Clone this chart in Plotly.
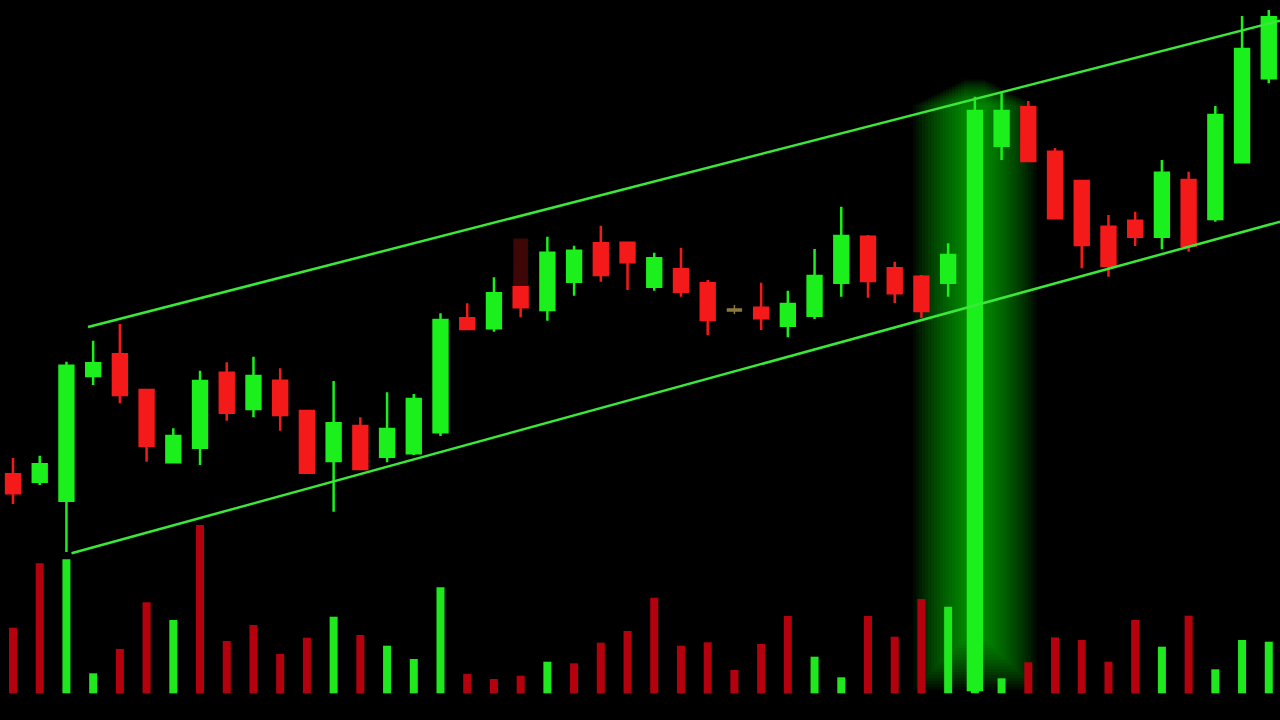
import plotly.graph_objects as go

# ---------------- data ----------------
idx = list(range(48))

opens = [52.57, 51.83, 49.93, 62.40, 64.57, 61.00, 53.77, 55.23, 62.73, 59.10,
         61.93, 58.90, 53.90, 57.40, 54.33, 54.67, 56.77, 68.17, 67.17, 71.27,
         69.00, 71.83, 75.67, 75.73, 71.33, 73.07, 71.67, None, 69.23, 67.43,
         68.43, 71.73, 76.33, 73.17, 72.33, 71.73, 31.00, 85.43, 89.27, 84.83,
         81.90, 77.33, 77.93, 76.33, 82.00, 78.10, 83.77, 92.17]
highs = [54.20, 54.43, 63.83, 65.93, 67.60, 61.10, 57.17, 62.93, 63.77, 64.33,
         63.17, 59.00, 61.90, 58.27, 60.77, 60.60, 68.67, 69.67, 72.27, 71.40,
         76.33, 75.43, 77.43, 75.83, 74.73, 75.23, 72.00, None, 71.73, 70.93,
         75.10, 79.33, 76.50, 73.83, 72.50, 75.67, 90.33, 90.83, 89.90, 85.20,
         82.00, 78.50, 78.83, 84.00, 82.83, 89.40, 98.40, 99.00]
lows = [49.60, 51.50, 44.80, 61.50, 59.67, 53.83, 53.77, 53.50, 57.93, 58.27,
        56.93, 52.70, 48.83, 53.00, 53.77, 54.50, 56.40, 67.10, 66.83, 68.27,
        67.93, 70.43, 71.83, 71.00, 70.93, 70.33, 66.50, None, 67.00, 66.27,
        68.10, 70.33, 70.23, 69.70, 68.20, 70.33, 30.80, 84.00, 83.90, 78.10,
        73.17, 72.33, 75.40, 75.07, 74.83, 77.83, 83.77, 91.67]
closes = [50.67, 53.57, 63.43, 63.67, 60.50, 55.43, 56.40, 61.90, 58.73, 62.40,
          58.50, 52.73, 57.67, 53.10, 57.10, 60.10, 68.00, 67.10, 70.67, 69.27,
          74.73, 74.93, 72.50, 73.77, 74.17, 70.83, 68.00, None, 68.17, 69.60,
          72.40, 76.40, 71.90, 70.67, 68.90, 74.50, 88.90, 88.90, 83.90, 78.17,
          75.50, 73.43, 76.33, 82.73, 75.43, 88.50, 95.10, 98.27]

# faint glitch candle
glitch_x = [27]
glitch_open = [69.1]
glitch_high = [69.5]
glitch_low = [68.6]
glitch_close = [68.9]

# faint motion ghost above candle 19
ghost_x = [19]
ghost_open = [76.1]
ghost_high = [76.1]
ghost_low = [71.3]
ghost_close = [71.3]

volumes = [656, 1300, 1340, 200, 443, 910, 733, 1683, 523, 683,
           393, 556, 766, 583, 476, 343, 1060, 193, 143, 176,
           316, 300, 506, 623, 956, 476, 510, 233, 493, 773,
           366, 160, 773, 566, 943, 866, 1000, 150, 310, 560,
           533, 316, 733, 466, 776, 240, 533, 516]
vol_dir = ["d", "d", "u", "u", "d", "d", "u", "d", "d", "d",
           "d", "d", "u", "d", "u", "u", "u", "d", "d", "d",
           "u", "d", "d", "d", "d", "d", "d", "d", "d", "d",
           "u", "u", "d", "d", "d", "u", "u", "u", "d", "d",
           "d", "d", "d", "u", "d", "u", "u", "u"]

upper_x = [2.81, 47.42]
upper_y = [67.30, 97.93]
lower_x = [2.19, 47.42]
lower_y = [44.67, 77.83]

breakout_idx = 36

# ---------------- style ----------------
GREEN = "#1cf01c"
RED = "#f51a1a"
VOL_RED = "#b5000e"
VOL_GREEN = "#1fe81f"
LINE = "#3ae83a"

fig = go.Figure()

# volume (bottom layer, y axis)
fig.add_trace(go.Bar(
    x=idx, y=volumes, width=0.3,
    marker=dict(color=[VOL_GREEN if d == "u" else VOL_RED for d in vol_dir], line=dict(width=0)),
    yaxis="y", hoverinfo="skip", showlegend=False))

# channel lines
fig.add_trace(go.Scatter(x=upper_x, y=upper_y, mode="lines", yaxis="y2",
                         line=dict(color=LINE, width=2.5), hoverinfo="skip", showlegend=False))
fig.add_trace(go.Scatter(x=lower_x, y=lower_y, mode="lines", yaxis="y2",
                         line=dict(color=LINE, width=2.5), hoverinfo="skip", showlegend=False))

# ghost
fig.add_trace(go.Candlestick(
    x=ghost_x, open=ghost_open, high=ghost_high, low=ghost_low, close=ghost_close, yaxis="y2",
    increasing=dict(line=dict(color="#3d0707", width=1), fillcolor="#3d0707"),
    decreasing=dict(line=dict(color="#3d0707", width=1), fillcolor="#3d0707"),
    whiskerwidth=0, showlegend=False, hoverinfo="skip"))

# candles
fig.add_trace(go.Candlestick(
    x=idx, open=opens, high=highs, low=lows, close=closes, yaxis="y2",
    increasing=dict(line=dict(color=GREEN, width=2.5), fillcolor=GREEN),
    decreasing=dict(line=dict(color=RED, width=2.5), fillcolor=RED),
    whiskerwidth=0, showlegend=False))

fig.add_trace(go.Candlestick(
    x=glitch_x, open=glitch_open, high=glitch_high, low=glitch_low, close=glitch_close, yaxis="y2",
    increasing=dict(line=dict(color="#8a7a40", width=1.5), fillcolor="#8a7a40"),
    decreasing=dict(line=dict(color="#8a7a40", width=1.5), fillcolor="#8a7a40"),
    whiskerwidth=0, showlegend=False))

# soft glow around the breakout candle (many thin translucent layers)
px_per_idx = 26.72
shapes = []
n_layers = 18
for k in range(n_layers):
    hw = 62 - k * 3.0
    d = hw / px_per_idx
    shapes.append(dict(type="rect", xref="x", yref="y2",
                       x0=breakout_idx - d, x1=breakout_idx + d,
                       y0=31 + 0.3 * k, y1=89.5 + 0.15 * k,
                       fillcolor="#22ff22", opacity=0.045, line=dict(width=0), layer="below"))

fig.update_layout(
    width=1280, height=720,
    margin=dict(l=0, r=0, t=0, b=0),
    paper_bgcolor="black", plot_bgcolor="black",
    showlegend=False, boxgap=0.26,
    shapes=shapes,
    xaxis=dict(range=[-0.4865, 47.42], visible=False, showgrid=False, zeroline=False,
               rangeslider=dict(visible=False), fixedrange=True),
    yaxis=dict(range=[-267, 6933], visible=False, showgrid=False, zeroline=False),
    yaxis2=dict(range=[28, 100], visible=False, showgrid=False, zeroline=False,
                overlaying="y"),
)

fig.write_html("out.html", config={"displayModeBar": False},
               post_script="document.body.style.margin='0';document.body.style.background='black';")
